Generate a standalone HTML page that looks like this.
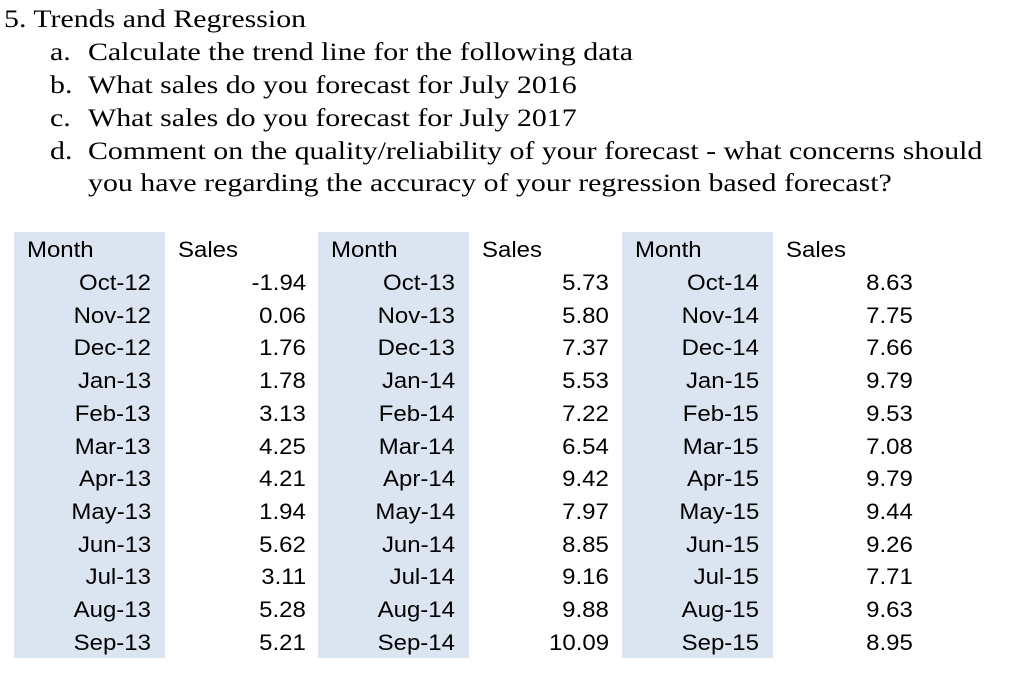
<!DOCTYPE html>
<html><head><meta charset="utf-8"><style>
body{margin:0;width:1024px;height:689px;background:#fff;position:relative;overflow:hidden;color:#000}
.h{position:absolute;font-family:"Liberation Serif",serif;font-size:25px;white-space:nowrap;line-height:30px;transform:scaleX(1.195);transform-origin:left center}
.bg{position:absolute;background:#dbe5f1;top:232px;height:426px;width:151px}
.c{position:absolute;font-family:"Liberation Sans",sans-serif;font-size:22px;line-height:26px;white-space:nowrap;transform:scaleX(1.09);transform-origin:right center}
.c.l{transform-origin:left center}
</style></head><body>
<div class="h" style="left:4px;top:5px">5. Trends and Regression</div>
<div class="h" style="left:50px;top:38px">a.</div>
<div class="h" style="left:88px;top:38px">Calculate the trend line for the following data</div>
<div class="h" style="left:50px;top:71px">b.</div>
<div class="h" style="left:88px;top:71px">What sales do you forecast for July 2016</div>
<div class="h" style="left:50px;top:104px">c.</div>
<div class="h" style="left:88px;top:104px">What sales do you forecast for July 2017</div>
<div class="h" style="left:50px;top:137px">d.</div>
<div class="h" style="left:88px;top:137px">Comment on the quality/reliability of your forecast - what concerns should</div>
<div class="h" style="left:88px;top:169px">you have regarding the accuracy of your regression based forecast?</div>
<div id="tbl"></div>
<script>
const months1=["Oct-12","Nov-12","Dec-12","Jan-13","Feb-13","Mar-13","Apr-13","May-13","Jun-13","Jul-13","Aug-13","Sep-13"];
const sales1=["-1.94","0.06","1.76","1.78","3.13","4.25","4.21","1.94","5.62","3.11","5.28","5.21"];
const months2=["Oct-13","Nov-13","Dec-13","Jan-14","Feb-14","Mar-14","Apr-14","May-14","Jun-14","Jul-14","Aug-14","Sep-14"];
const sales2=["5.73","5.80","7.37","5.53","7.22","6.54","9.42","7.97","8.85","9.16","9.88","10.09"];
const months3=["Oct-14","Nov-14","Dec-14","Jan-15","Feb-15","Mar-15","Apr-15","May-15","Jun-15","Jul-15","Aug-15","Sep-15"];
const sales3=["8.63","7.75","7.66","9.79","9.53","7.08","9.79","9.44","9.26","7.71","9.63","8.95"];
const tbl=document.getElementById('tbl');
const blocks=[[months1,sales1,14,306],[months2,sales2,318,609],[months3,sales3,622,913]];
function add(html,cls,style,name){const d=document.createElement('div');d.className=cls;if(html!==null)d.textContent=html;d.style.cssText+=style;


tbl.appendChild(d);}
blocks.forEach((b,k)=>{
  const [m,s,x0,sr]=b;
  add(null,'bg','left:'+x0+'px','month-column-bg-'+(k+1));
  add('Month','c l','left:'+(x0+13)+'px;top:237px','month-header-'+(k+1));
  add('Sales','c l','left:'+(x0+164)+'px;top:237px','sales-header-'+(k+1));
  m.forEach((v,i)=>{
    const y=270+i*32.7;
    add(v,'c','right:'+(1024-(x0+137))+'px;top:'+y+'px','month-cell');
    add(s[i],'c','right:'+(1024-sr)+'px;top:'+y+'px','sales-cell');
  });
});
</script>
</body></html>
